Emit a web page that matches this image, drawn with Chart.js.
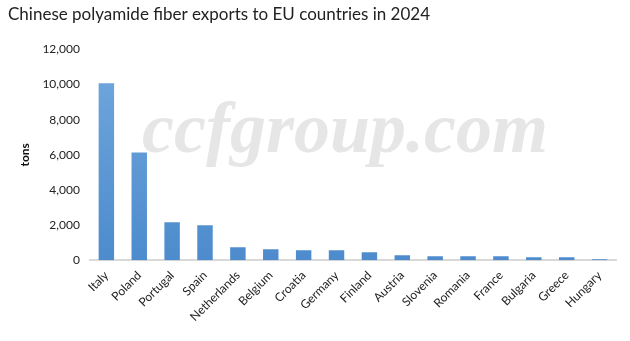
<!DOCTYPE html>
<html>
<head>
<meta charset="utf-8">
<script src="https://cdn.jsdelivr.net/npm/chart.js@4/dist/chart.umd.min.js"></script>
<style>
  html, body { margin: 0; padding: 0; background: #fff; }
  #wrap { width: 630px; height: 341px; position: relative; }
</style>
</head>
<body>
<div id="wrap"><canvas id="chart"></canvas></div>
<script>
const countries = ["Italy", "Poland", "Portugal", "Spain", "Netherlands", "Belgium", "Croatia",
  "Germany", "Finland", "Austria", "Slovenia", "Romania", "France", "Bulgaria", "Greece", "Hungary"];
const exportsTons = [10070, 6140, 2160, 1990, 740, 625, 570, 570, 455, 285, 230, 230, 230, 170, 170, 60];
const yTicks = [0, 2000, 4000, 6000, 8000, 10000, 12000];

const FONT = "Lato, 'Open Sans', sans-serif";

// faint watermark behind the bars
const watermark = {
  id: "watermark",
  beforeDatasetsDraw(chart) {
    const { ctx } = chart;
    ctx.save();
    ctx.font = "italic bold 72px 'Liberation Serif', 'DejaVu Serif', serif";
    ctx.fillStyle = "#e6e6e6";
    ctx.textAlign = "center";
    ctx.textBaseline = "alphabetic";
    ctx.fillText("ccfgroup.com", 345, 152);
    ctx.restore();
  }
};

function barGradient(context) {
  const area = context.chart.chartArea;
  if (!area) return "#5b9bd5";
  const g = context.chart.ctx.createLinearGradient(0, area.top, 0, area.bottom);
  g.addColorStop(0, "#72a9de");
  g.addColorStop(1, "#4d8bcd");
  return g;
}

new Chart(document.getElementById("chart"), {
  type: "bar",
  data: {
    labels: countries,
    datasets: [{
      data: exportsTons,
      backgroundColor: barGradient,
      barPercentage: 0.47,
      categoryPercentage: 1.0
    }]
  },
  options: {
    responsive: true,
    maintainAspectRatio: false,
    animation: false,
    layout: { padding: { left: 8, right: 14, top: 0, bottom: 9 } },
    plugins: {
      legend: { display: false },
      tooltip: { enabled: false },
      title: {
        display: true,
        text: "Chinese polyamide fiber exports to EU countries in 2024",
        align: "start",
        color: "#222",
        font: { family: FONT, size: 17, weight: "normal" },
        padding: { top: 4, bottom: 25 }
      }
    },
    scales: {
      x: {
        grid: { display: false, drawTicks: false },
        border: { color: "#d9d9d9", width: 2 },
        ticks: {
          color: "#222",
          font: { family: FONT, size: 12 },
          maxRotation: 45,
          minRotation: 45,
          autoSkip: false,
          padding: 8
        }
      },
      y: {
        min: 0,
        max: 12000,
        afterBuildTicks(axis) { axis.ticks = yTicks.map(v => ({ value: v })); },
        grid: { display: false, drawTicks: false },
        border: { display: false },
        title: {
          display: true,
          text: "tons",
          color: "#111",
          font: { family: FONT, size: 12, weight: "bold" },
          padding: { top: 10, bottom: 0 }
        },
        ticks: {
          color: "#222",
          font: { family: FONT, size: 12 },
          padding: 10,
          callback: v => v.toLocaleString("en-US")
        }
      }
    }
  },
  plugins: [watermark]
});
</script>
</body>
</html>
